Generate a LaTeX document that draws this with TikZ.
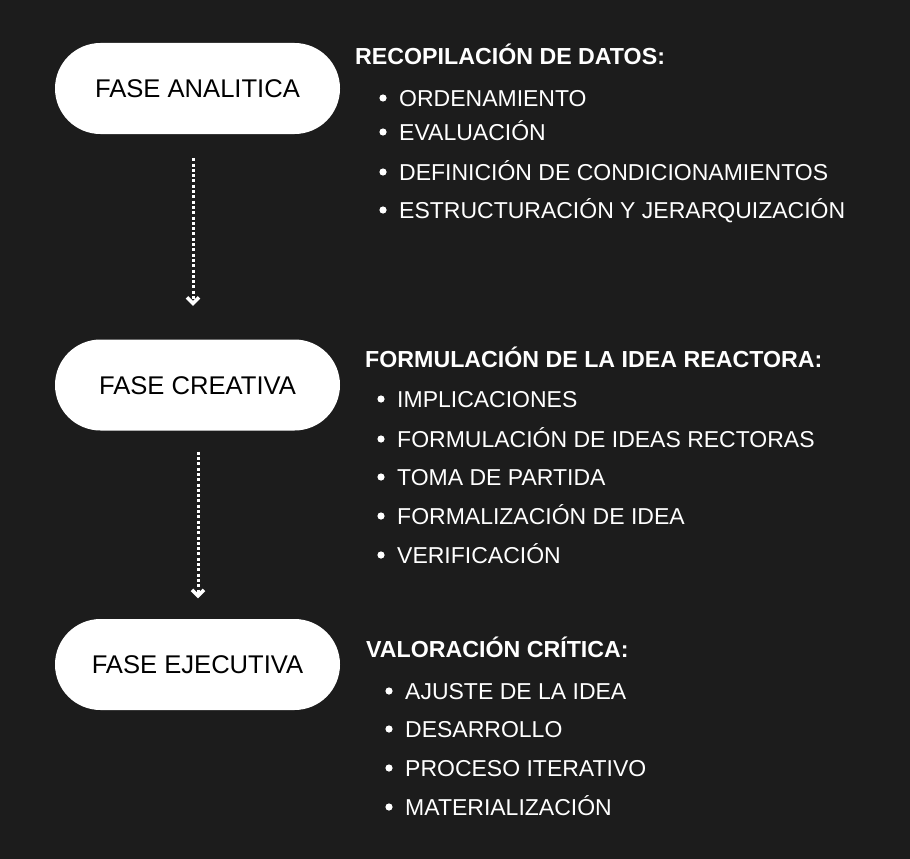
\documentclass[tikz,border=0pt]{standalone}
\usepackage{fontspec}
\setmainfont{Liberation Sans}
\definecolor{bg}{HTML}{1C1C1C}
\tikzset{
  pill/.style={fill=white, rounded corners=45.5pt, minimum width=285pt, minimum height=91pt,
    inner sep=0pt, text height=18.3pt, text depth=0pt, text=black,
    font=\fontsize{25.6}{30}\selectfont},
  head/.style={anchor=base west, inner sep=0pt, text=white, font=\fontsize{23.2}{27}\selectfont\bfseries},
  item/.style={anchor=base west, inner sep=0pt, text=white, font=\fontsize{23}{27}\selectfont},
  flow/.style={draw=white, line width=3pt, dash pattern=on 3pt off 2.3pt},
  chevron/.style={draw=white, line width=3.6pt, line join=miter, line cap=butt},
}
\newcommand{\bul}[1]{\fill[white] ([shift={(-16pt,8pt)}]#1.base west) circle (3.6pt);}
\newcommand{\chev}[1]{\draw[chevron] ([shift={(-6pt,6pt)}]#1) -- (#1) -- ([shift={(6pt,6pt)}]#1);}
\begin{document}
\begin{tikzpicture}[x=1pt,y=-1pt]
\fill[bg] (0,0) rectangle (910,859);
\useasboundingbox (0,0) rectangle (910,859);
% phases
\node[pill] (p1) at (197.5,88.5) {FASE ANALITICA};
\node[pill] (p2) at (197.5,385) {FASE CREATIVA};
\node[pill] (p3) at (197.5,664.5) {FASE EJECUTIVA};
% connectors
\coordinate (t1) at ([shift={(-4.5pt,36pt)}]p2.north);
\coordinate (t2) at ([shift={(0.5pt,23pt)}]p3.north);
\draw[flow, shorten <=24pt, shorten >=2pt] ([xshift=-4.5pt]p1.south) -- (t1);
\chev{t1}
\draw[flow, shorten <=21pt, shorten >=2pt] ([xshift=0.5pt]p2.south) -- (t2);
\chev{t2}
% section 1
\node[head] (h1) at (355,64) {RECOPILACIÓN DE DATOS:};
\node[item] (a1) at (399,106) {ORDENAMIENTO}; \bul{a1}
\node[item] (a2) at (399,140) {EVALUACIÓN}; \bul{a2}
\node[item] (a3) at (399,180) {DEFINICIÓN DE CONDICIONAMIENTOS}; \bul{a3}
\node[item] (a4) at (399,218) {ESTRUCTURACIÓN Y JERARQUIZACIÓN}; \bul{a4}
% section 2
\node[head] (h2) at (365,367) {FORMULACIÓN DE LA IDEA REACTORA:};
\node[item] (b1) at (397,407) {IMPLICACIONES}; \bul{b1}
\node[item] (b2) at (397,447) {FORMULACIÓN DE IDEAS RECTORAS}; \bul{b2}
\node[item] (b3) at (397,485) {TOMA DE PARTIDA}; \bul{b3}
\node[item] (b4) at (397,524) {FORMALIZACIÓN DE IDEA}; \bul{b4}
\node[item] (b5) at (397,563) {VERIFICACIÓN}; \bul{b5}
% section 3
\node[head] (h3) at (366,657) {VALORACIÓN CRÍTICA:};
\node[item] (c1) at (405,699) {AJUSTE DE LA IDEA}; \bul{c1}
\node[item] (c2) at (405,737) {DESARROLLO}; \bul{c2}
\node[item] (c3) at (405,776) {PROCESO ITERATIVO}; \bul{c3}
\node[item] (c4) at (405,815) {MATERIALIZACIÓN}; \bul{c4}
\end{tikzpicture}
\end{document}
